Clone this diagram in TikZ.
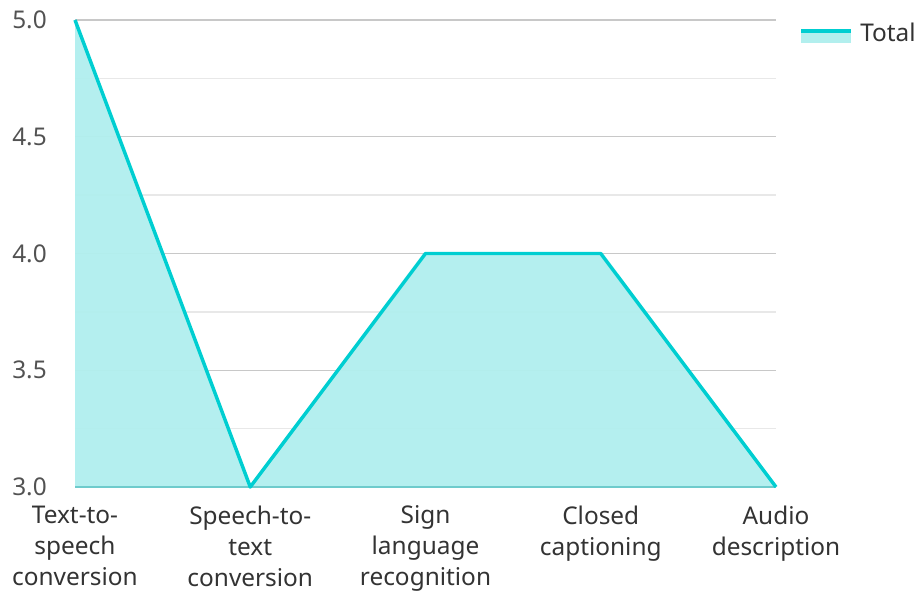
\documentclass[tikz,border=0pt]{standalone}
\usepackage{fontspec}
\setmainfont{Noto Sans}
\definecolor{teal1}{HTML}{00CED1}
\definecolor{fillc}{HTML}{B2EFEE}
\definecolor{gridmaj}{HTML}{C8C8C8}
\definecolor{gridmin}{HTML}{E8E8E8}
\definecolor{txt}{HTML}{333333}
\begin{document}
\begin{tikzpicture}[x=0.75pt,y=-0.75pt,
  ylab/.style={anchor=east,font=\fontsize{18.3}{22}\selectfont,text=txt!85!white,inner sep=0pt},
  xlab/.style={anchor=north,align=center,font=\fontsize{18.3}{23.25}\selectfont,text=txt,inner sep=0pt},
  major/.style={draw=gridmaj,line width=1pt},
  minor/.style={draw=gridmin,line width=1pt},
  series/.style={draw=teal1,line width=2.6pt,line join=round}]
\useasboundingbox (0,0) rectangle (917,591);
% minor grid
\foreach \y in {78.4,195.1,311.9,428.6} \draw[minor] (75,\y) -- (776,\y);
% major grid
\foreach \y in {20,136.75,253.5,370.25,487} \draw[major] (75,\y) -- (776,\y);
% points
\coordinate (p1) at (75,20);
\coordinate (p2) at (250.25,487);
\coordinate (p3) at (425.5,253.5);
\coordinate (p4) at (600.75,253.5);
\coordinate (p5) at (776,487);
\coordinate (b1) at (75,487);
\fill[fillc,opacity=0.97] (b1) -- (p1) -- (p2) -- (p3) -- (p4) -- (p5) -- cycle;
\draw[draw=teal1!45!gridmaj,line width=1pt] (b1) -- (p5);
\draw[series] (p1) -- (p2) -- (p3) -- (p4) -- (p5);
% y labels
\node[ylab] (y50) at (47,20) {5.0};
\node[ylab] (y45) at (47,136.75) {4.5};
\node[ylab] (y40) at (47,253.5) {4.0};
\node[ylab] (y35) at (47,370.25) {3.5};
\node[ylab] (y30) at (47,487) {3.0};
% x labels
\node[xlab] (x1) at (75,505.5) {Text-to-\\speech\\conversion};
\node[xlab] (x2) at (250.25,505.5) {Speech-to-\\text\\conversion};
\node[xlab] (x3) at (425.5,505.5) {Sign\\language\\recognition};
\node[xlab] (x4) at (600.75,505.5) {Closed\\captioning};
\node[xlab] (x5) at (776,505.5) {Audio\\description};
% legend
\fill[fillc] (801,31) rectangle (851,43);
\draw[draw=teal1,line width=3pt] (801,31.5) -- (851,31.5);
\node[anchor=west,font=\fontsize{18.3}{22}\selectfont,text=txt,inner sep=0pt] (leg) at (860,32) {Total};
\end{tikzpicture}
\end{document}
